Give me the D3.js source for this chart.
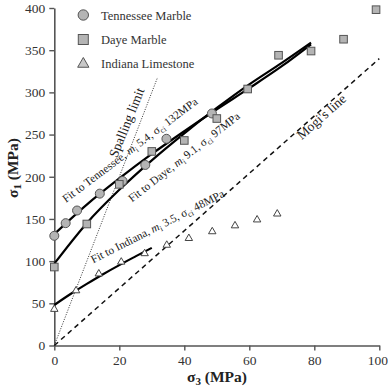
<!DOCTYPE html>
<html>
<head>
<meta charset="utf-8">
<script src="https://cdn.jsdelivr.net/npm/d3@7"></script>
<style>
  body { margin: 0; background: #fff; }
  svg text { font-family: "Liberation Serif", "Times New Roman", Times, "DejaVu Serif", serif; }
</style>
</head>
<body>
<div id="chart"></div>
<script>
// data: [sigma3, sigma1] in MPa
const tennessee = [[0, 130], [3.5, 145], [7, 160], [14, 180], [21, 195], [28, 214], [34.5, 245], [48.5, 275]];
const daye = [[0, 93], [10, 144], [20, 191], [30, 230], [40, 243], [50, 269], [59.5, 304], [69, 344], [79, 349], [89, 363], [99, 398]];
const indiana = [[0, 43], [6.7, 65], [13.7, 85], [20.6, 99], [27.8, 109], [34.6, 119], [41.4, 127], [48.6, 135], [55.6, 142], [62.4, 149], [68.6, 156]];

// fitted curves
const fitTennessee = [[0, 132], [10, 167], [20, 198], [30, 227], [40, 254], [50, 280], [60, 305], [70, 331], [79, 357]];
const fitDaye = [[0, 97], [10, 145], [20, 184.5], [30, 219.5], [40, 251.5], [50, 281.5], [60, 309.5], [70, 335], [79, 359]];
const fitIndiana = [[0, 48], [5, 61], [10, 73], [15, 84.5], [20, 95.3], [25, 105.6], [30, 115.7]];

const spallingLimit = [[0, 0], [31.8, 318]];
const mogiLine = [[0, 0], [100, 340]];

const xTicks = [0, 20, 40, 60, 80, 100];
const yTicks = [0, 50, 100, 150, 200, 250, 300, 350, 400];
const legendNames = ["Tennessee Marble", "Daye Marble", "Indiana Limestone"];

const width = 388, height = 392;
const serif = "'Liberation Serif', 'Times New Roman', Times, 'DejaVu Serif', serif";

const x = d3.scaleLinear().domain([0, 100]).range([54.3, 379.3]);
const y = d3.scaleLinear().domain([0, 400]).range([345.5, 8]);

const svg = d3.select("#chart").append("svg")
  .attr("width", width)
  .attr("height", height)
  .attr("font-family", serif);

// axes
const xAxis = svg.append("g")
  .attr("transform", "translate(0," + y(0) + ")")
  .call(d3.axisBottom(x).tickValues(xTicks).tickSizeOuter(0).tickSizeInner(5).tickPadding(5));
const yAxis = svg.append("g")
  .attr("transform", "translate(" + x(0) + ",0)")
  .call(d3.axisLeft(y).tickValues(yTicks).tickSizeOuter(0).tickSizeInner(5).tickPadding(4));

[xAxis, yAxis].forEach(function(g) {
  g.attr("font-family", serif).attr("font-size", 13.5);
  g.select(".domain").attr("stroke", "#555").attr("stroke-width", 1.6);
  g.selectAll(".tick line").attr("stroke", "#555").attr("stroke-width", 1.4);
  g.selectAll(".tick text").attr("fill", "#333");
});
// last x label sits against the right edge
xAxis.selectAll(".tick text").filter(d => d === 100).attr("dx", -2);

// reference lines
const line = d3.line().x(d => x(d[0])).y(d => y(d[1]));

svg.append("path")
  .datum(mogiLine)
  .attr("fill", "none")
  .attr("stroke", "#111")
  .attr("stroke-width", 1.5)
  .attr("stroke-dasharray", "5,4")
  .attr("d", line);

svg.append("path")
  .datum(spallingLimit)
  .attr("fill", "none")
  .attr("stroke", "#333")
  .attr("stroke-width", 1)
  .attr("stroke-dasharray", "1,1.5")
  .attr("d", line);

// fit curves
const curve = d3.line().x(d => x(d[0])).y(d => y(d[1])).curve(d3.curveMonotoneX);
[fitTennessee, fitDaye, fitIndiana].forEach(function(fit) {
  svg.append("path")
    .datum(fit)
    .attr("fill", "none")
    .attr("stroke", "#000")
    .attr("stroke-width", 2.2)
    .attr("d", curve);
});

// markers
svg.selectAll(".tn").data(tennessee).enter().append("circle")
  .attr("cx", d => x(d[0]))
  .attr("cy", d => y(d[1]))
  .attr("r", 4.5)
  .attr("fill", "#b4b4b4")
  .attr("stroke", "#555")
  .attr("stroke-width", 1);

svg.selectAll(".dy").data(daye).enter().append("rect")
  .attr("x", d => x(d[0]) - 3.8)
  .attr("y", d => y(d[1]) - 3.8)
  .attr("width", 7.6)
  .attr("height", 7.6)
  .attr("fill", "#b4b4b4")
  .attr("stroke", "#555")
  .attr("stroke-width", 1);

const tri = d3.symbol().type(d3.symbolTriangle);
svg.selectAll(".in").data(indiana).enter().append("path")
  .attr("transform", d => "translate(" + x(d[0]) + "," + y(d[1]) + ")")
  .attr("d", tri.size(24))
  .attr("fill", "#fff")
  .attr("stroke", "#444")
  .attr("stroke-width", 1);

// legend
const legend = svg.append("g");
const legY = [15, 39.5, 63];
legend.append("circle").attr("cx", 83.3).attr("cy", legY[0]).attr("r", 5.2)
  .attr("fill", "#b4b4b4").attr("stroke", "#555");
legend.append("rect").attr("x", 78.3).attr("y", legY[1] - 5).attr("width", 10).attr("height", 10)
  .attr("fill", "#b4b4b4").attr("stroke", "#555");
legend.append("path").attr("transform", "translate(83.3," + (legY[2] + 1) + ")")
  .attr("d", d3.symbol().type(d3.symbolTriangle).size(55)())
  .attr("fill", "#c8c8c8").attr("stroke", "#555");
legend.selectAll("text").data(legendNames).enter().append("text")
  .attr("x", 101)
  .attr("y", (d, i) => legY[i] + 4.5)
  .attr("font-size", 12.5)
  .attr("fill", "#333")
  .text(d => d);

// rotated labels with subscripts
function fitLabel(px, py, angle, name, m, sci) {
  const t = svg.append("text")
    .attr("transform", "translate(" + px + "," + py + ") rotate(" + angle + ")")
    .attr("font-size", 11.4)
    .attr("fill", "#222");
  t.append("tspan").text("Fit to " + name + ", ");
  t.append("tspan").attr("font-style", "italic").text("m");
  t.append("tspan").attr("dy", 2.5).attr("font-size", 8).text("i");
  t.append("tspan").attr("dy", -2.5).text(" " + m + ", σ");
  t.append("tspan").attr("dy", 2.5).attr("font-size", 8).text("ci");
  t.append("tspan").attr("dy", -2.5).text(" " + sci + "MPa");
}
fitLabel(x(3.6), y(167.6) - 1, -37, "Tennessee", "5.4", "132");
fitLabel(x(23.6) + 1, y(173) + 3, -38, "Daye", "9.1", "97");
fitLabel(x(12), y(97.3), -27, "Indiana", "3.5", "48");

svg.append("text")
  .attr("transform", "translate(" + (x(19.6) - 1) + "," + y(221.7) + ") rotate(-68)")
  .attr("font-size", 13.5)
  .attr("fill", "#222")
  .text("Spalling limit");

const mogiAngle = Math.atan2(y(mogiLine[1][1]) - y(0), x(mogiLine[1][0]) - x(0)) * 180 / Math.PI;
svg.append("text")
  .attr("transform", "translate(" + x(76.1) + "," + y(243.4) + ") rotate(" + mogiAngle + ")")
  .attr("font-size", 13.5)
  .attr("fill", "#222")
  .text("Mogi's line");

// axis titles
const xt = svg.append("text")
  .attr("x", 217)
  .attr("y", 382)
  .attr("text-anchor", "middle")
  .attr("font-size", 15.5)
  .attr("font-weight", "bold")
  .attr("fill", "#222");
xt.append("tspan").text("σ");
xt.append("tspan").attr("dy", 3).attr("font-size", 11).text("3");
xt.append("tspan").attr("dy", -3).text(" (MPa)");

const yt = svg.append("text")
  .attr("transform", "translate(18,168) rotate(-90)")
  .attr("text-anchor", "middle")
  .attr("font-size", 15.5)
  .attr("font-weight", "bold")
  .attr("fill", "#222");
yt.append("tspan").text("σ");
yt.append("tspan").attr("dy", 3).attr("font-size", 11).text("1");
yt.append("tspan").attr("dy", -3).text(" (MPa)");
</script>
</body>
</html>
